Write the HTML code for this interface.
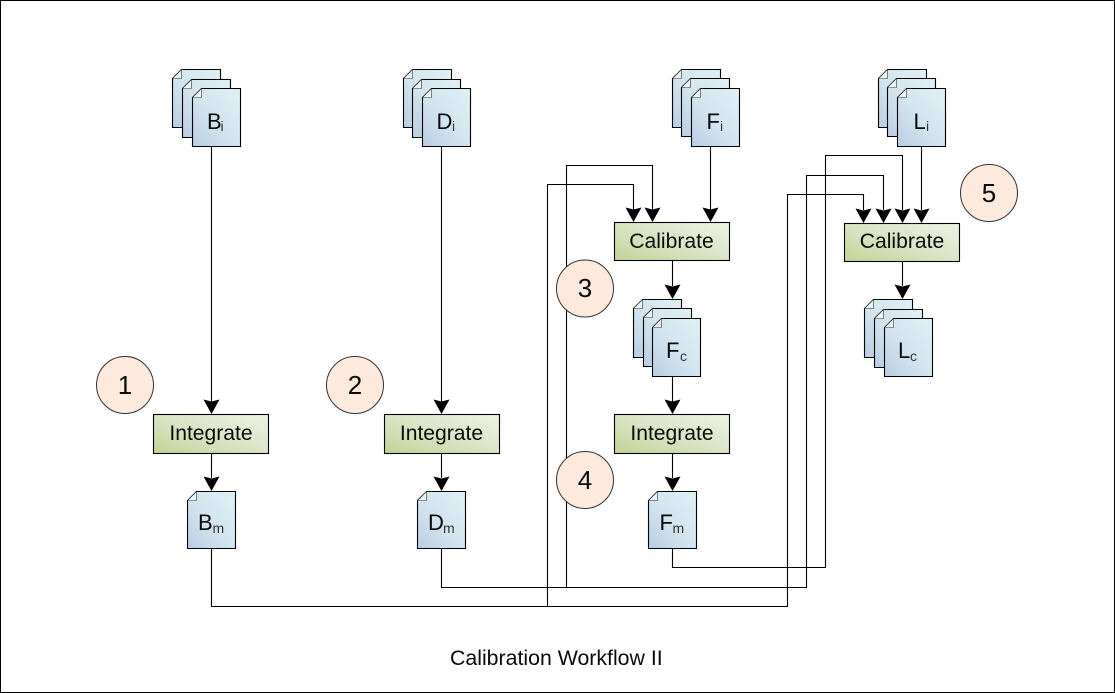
<!DOCTYPE html>
<html><head><meta charset="utf-8"><style>
html,body{margin:0;padding:0;background:#fff}
svg{display:block}
text{font-family:"Liberation Sans",Arial,sans-serif;fill:#0a0a0a}
.t{font-size:21.1px;text-anchor:middle}
.d{font-size:26px;text-anchor:middle}
.b{font-size:22px}
.s{font-size:14px;fill:#333}
.c{fill:none;stroke:#000;stroke-width:1.1}
</style></head><body>
<svg width="1115" height="693" viewBox="0 0 1115 693" xmlns="http://www.w3.org/2000/svg">
<defs>
<linearGradient id="pg" x1="0" y1="1" x2="1" y2="0"><stop offset="0" stop-color="#b9cde5"/><stop offset=".5" stop-color="#d3e6ef"/><stop offset="1" stop-color="#dff0f5"/></linearGradient>
<linearGradient id="bx" x1="0" y1="1" x2="1" y2="0"><stop offset="0" stop-color="#c0d496"/><stop offset=".55" stop-color="#dce6c9"/><stop offset="1" stop-color="#edf2e3"/></linearGradient>
<g id="p"><path d="M9.5 .5H48.5V58.5H.5V9.5Z" fill="url(#pg)" stroke="#000" stroke-width="1.1"/><path d="M9.5 .5V9.5H.5Z" fill="#eef5f8" stroke="#333" stroke-width=".6"/></g>
<g id="q"><path d="M9.5 .5H48.5V57.5H.5V9.5Z" fill="url(#pg)" stroke="#000" stroke-width="1.1"/><path d="M9.5 .5V9.5H.5Z" fill="#eef5f8" stroke="#333" stroke-width=".6"/></g>
<path id="a" d="M-8 -14.5L0 -12.5L8 -14.5L0 0Z" fill="#000"/>
</defs>
<rect x=".5" y=".5" width="1114" height="692" fill="#fff" stroke="#000"/>

<path class="c" d="M211.5 147V402M211.5 453V478M441.5 147V402M441.5 453V478M710.5 147V210M672.5 261V286M672.5 376V402M672.5 453V478M921.5 147V210M902.5 262V286"/>
<path class="c" d="M211.5 548V606.5H787.5V194.5H863.5V210"/>
<path class="c" d="M547.5 606.5V184.5H633.5V210"/>
<path class="c" d="M441.5 548V587.5H806.5V175.5H883.5V210"/>
<path class="c" d="M566.5 587.5V165.5H652.5V210"/>
<path class="c" d="M672.5 548V567.5H825.5V155.5H902.5V210"/>

<use href="#a" x="211.5" y="414"/><use href="#a" x="211.5" y="491"/>
<use href="#a" x="441.5" y="414"/><use href="#a" x="441.5" y="491"/>
<use href="#a" x="633.5" y="222"/><use href="#a" x="652.5" y="222"/><use href="#a" x="710.5" y="222"/>
<use href="#a" x="672.5" y="299"/><use href="#a" x="672.5" y="414"/><use href="#a" x="672.5" y="491"/>
<use href="#a" x="863.5" y="223"/><use href="#a" x="883.5" y="223"/><use href="#a" x="902.5" y="223"/><use href="#a" x="921.5" y="223"/>
<use href="#a" x="902.5" y="299"/>

<use href="#p" x="172" y="69"/><use href="#p" x="182" y="79"/><use href="#p" x="192" y="88"/>
<use href="#p" x="403" y="69"/><use href="#p" x="412" y="79"/><use href="#p" x="422" y="88"/>
<use href="#p" x="672" y="69"/><use href="#p" x="681" y="78"/><use href="#p" x="691" y="88"/>
<use href="#p" x="878" y="69"/><use href="#p" x="887" y="78"/><use href="#p" x="897" y="88"/>
<use href="#p" x="633" y="299"/><use href="#p" x="643" y="308"/><use href="#p" x="652" y="318"/>
<use href="#p" x="864" y="299"/><use href="#p" x="874" y="309"/><use href="#p" x="884" y="318"/>
<use href="#q" x="187" y="491"/>
<use href="#q" x="417" y="491"/>
<use href="#q" x="648" y="491"/>

<rect x="153.5" y="414.5" width="115" height="39" fill="url(#bx)" stroke="#000" stroke-width="1.1"/>
<rect x="384.5" y="414.5" width="115" height="39" fill="url(#bx)" stroke="#000" stroke-width="1.1"/>
<rect x="614.5" y="414.5" width="115" height="39" fill="url(#bx)" stroke="#000" stroke-width="1.1"/>
<rect x="614.5" y="222.5" width="115" height="38" fill="url(#bx)" stroke="#000" stroke-width="1.1"/>
<rect x="844.5" y="223.5" width="115" height="38" fill="url(#bx)" stroke="#000" stroke-width="1.1"/>

<text class="t" x="211" y="440">Integrate</text>
<text class="t" x="441.5" y="440">Integrate</text>
<text class="t" x="672" y="440">Integrate</text>
<text class="t" x="671.5" y="248">Calibrate</text>
<text class="t" x="902" y="248">Calibrate</text>

<g fill="#fdeadd" stroke="#333" stroke-width="1">
<circle cx="125" cy="385" r="28.5"/><circle cx="355" cy="385" r="28.5"/><circle cx="585" cy="288.5" r="28.5"/><circle cx="585" cy="480" r="28.5"/><circle cx="989" cy="193" r="28.5"/>
</g>
<text class="d" x="125" y="394">1</text>
<text class="d" x="355" y="394">2</text>
<text class="d" x="585" y="297">3</text>
<text class="d" x="585" y="489">4</text>
<text class="d" x="989" y="202">5</text>

<text class="b" x="207" y="129">B</text><text class="s" x="220.5" y="131">i</text>
<text class="b" x="436.5" y="129">D</text><text class="s" x="452" y="131">i</text>
<text class="b" x="706.5" y="129">F</text><text class="s" x="720" y="131">i</text>
<text class="b" x="913.5" y="129">L</text><text class="s" x="926" y="131">i</text>
<text class="b" x="666" y="358">F</text><text class="s" x="680" y="361">c</text>
<text class="b" x="898" y="358">L</text><text class="s" x="910" y="361">c</text>
<text class="b" x="198" y="530">B</text><text class="s" x="212.5" y="533">m</text>
<text class="b" x="428" y="530">D</text><text class="s" x="443" y="533">m</text>
<text class="b" x="659.5" y="530">F</text><text class="s" x="672.5" y="533">m</text>

<text x="450" y="665" font-size="21.3">Calibration Workflow II</text>
</svg>
</body></html>
